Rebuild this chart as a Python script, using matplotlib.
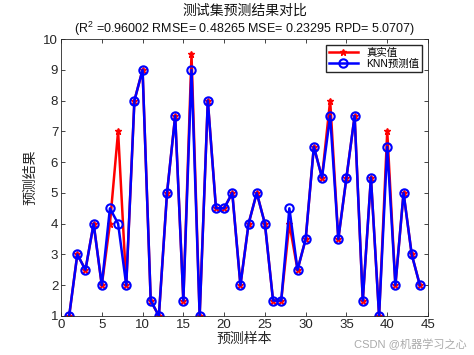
import matplotlib
matplotlib.use('Agg')
import matplotlib.pyplot as plt
import numpy as np

plt.rcParams['font.family'] = ['Liberation Sans', 'Noto Sans CJK SC', 'DejaVu Sans']
plt.rcParams['axes.unicode_minus'] = False
plt.rcParams['mathtext.fontset'] = 'custom'
plt.rcParams['mathtext.rm'] = 'Liberation Sans'

SAMPLES = np.arange(1, 45)
TRUE_VALS = [1, 3, 2.5, 4, 2, 4, 7, 2, 8, 9, 1.5, 1, 5, 7.5, 1.5, 9.5, 1, 8, 4.5, 4.5,
             5, 2, 4, 5, 4, 1.5, 1.5, 4, 2.5, 3.5, 6.5, 5.5, 8, 3.5, 5.5, 7.5, 1.5, 5.5,
             1, 7, 2, 5, 3, 2]
PRED_VALS = [1, 3, 2.5, 4, 2, 4.5, 4, 2, 8, 9, 1.5, 1, 5, 7.5, 1.5, 9, 1, 8, 4.5, 4.5,
             5, 2, 4, 5, 4, 1.5, 1.5, 4.5, 2.5, 3.5, 6.5, 5.5, 7.5, 3.5, 5.5, 7.5, 1.5, 5.5,
             1, 6.5, 2, 5, 3, 2]

fig = plt.figure(figsize=(4.74, 3.55), dpi=100)
ax = fig.add_axes([0.1287, 0.110, 0.7743, 0.780])

ax.plot(SAMPLES, TRUE_VALS, '-', color='red', lw=1.8, marker='*', ms=5,
        mfc='red', mec='red', label='真实值')
ax.plot(SAMPLES, PRED_VALS, '-', color='blue', lw=1.8, marker='o', ms=6,
        mfc='none', mec='blue', mew=1.5, label='KNN预测值')

ax.set_xlim(0, 45)
ax.set_ylim(1, 10)
ax.set_xticks(range(0, 46, 5))
ax.set_yticks(range(1, 11))
ax.tick_params(direction='in', top=True, right=True, labelsize=9.5, length=3,
               width=0.6, colors='#262626', pad=2)
for s in ax.spines.values():
    s.set_linewidth(0.6)
    s.set_color('#262626')

ax.set_xlabel('预测样本', fontsize=10, color='#262626', labelpad=1)
ax.set_ylabel('预测结果', fontsize=10, color='#262626', labelpad=4)
fig.text(0.516, 1 - 11 / 355, '测试集预测结果对比', ha='center', va='center',
         fontsize=10, color='#111111')
fig.text(0.516, 1 - 29 / 355,
         '(R$^2$ =0.96002 RMSE= 0.48265 MSE= 0.23295 RPD= 5.0707)',
         ha='center', va='center', fontsize=9, color='#111111')

ax.legend(loc='upper right', fontsize=7.5, frameon=True, fancybox=False,
          edgecolor='#262626', framealpha=1, borderpad=0.25, handlelength=2.8,
          labelspacing=0.1, borderaxespad=0.6)

fig.text(0.985, 0.015, 'CSDN @机器学习之心', ha='right', va='bottom',
         fontsize=8, color='#aaaaaa')

fig.savefig('out.png', dpi=100)
